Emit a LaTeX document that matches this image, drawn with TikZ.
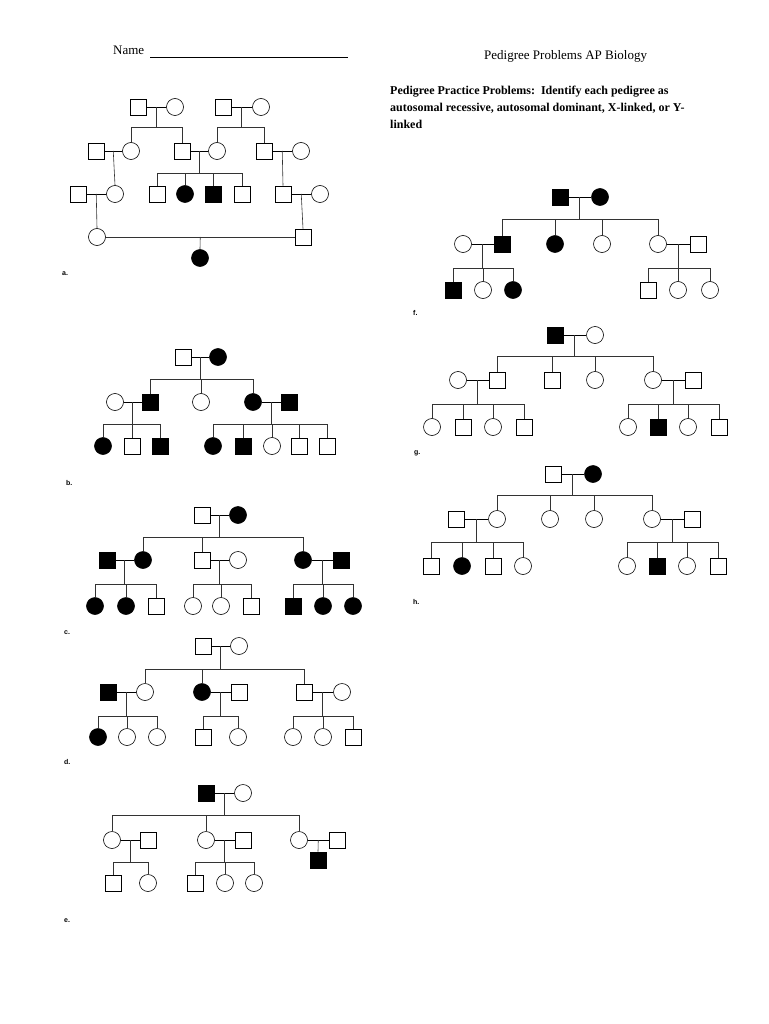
\documentclass[tikz,border=0pt]{standalone}
\usepackage{fontspec}
\setmainfont{Liberation Serif}
\newfontfamily\lab{Liberation Sans}
\begin{document}
\begin{tikzpicture}[x=1pt,y=-1pt,
  sq/.style={draw,rectangle,minimum size=16pt,inner sep=0pt,line width=0.6pt},
  ci/.style={draw,circle,minimum size=17pt,inner sep=0pt,line width=0.6pt},
  af/.style={fill=black},
  ln/.style={line width=0.6pt,draw=black!80},
  cl/.style={line width=0.9pt},
  lbl/.style={font=\lab\bfseries\fontsize{7}{8}\selectfont,anchor=base west,inner sep=0pt}]
\useasboundingbox (0,0) rectangle (768,1024);
\newcommand\Sq[4][]{\node[sq,#1] (#2) at (#3,#4) {};}
\newcommand\Ci[4][]{\node[ci,#1] (#2) at (#3,#4) {};}
\newcommand\cpl[3]{\draw[cl] (#1) -- (#2) coordinate[midway] (#3);}
% #1 parent coord, #2 y, #3 first, #4 last, #5 list
\newcommand\sibs[5]{\draw[ln] (#1) -- (#1 |- 0,#2);
  \draw[ln] (#3.north |- 0,#2) -- (#4.north |- 0,#2);
  \foreach \c in {#5}{\draw[ln] (\c.north) -- (\c.north |- 0,#2);}}
\newcommand\one[2]{\draw[ln] (#1) -- (#2.north);}

% header
\node[anchor=base west,inner sep=0pt,font=\fontsize{13}{15}\selectfont] (nm) at (113,55) {Name};
\draw[line width=0.7pt] (150,57) coordinate (u1) -- (348,57) coordinate (u2);
\node[anchor=base west,inner sep=0pt,font=\fontsize{13}{15}\selectfont] (tt) at (484,60) {Pedigree Problems AP Biology};
\node[anchor=north west,inner sep=0pt,align=left,font=\bfseries\fontsize{12}{17}\selectfont] (ins) at (390,86)
 {Pedigree Practice Problems:\ \ Identify each pedigree as\\autosomal recessive, autosomal dominant, X-linked, or Y-\\linked};

% ===== a =====
\Sq{a1}{138}{107}\Ci{a2}{175}{107}\Sq{a3}{223}{107}\Ci{a4}{261}{107}
\Sq{a5}{96}{151}\Ci{a6}{131}{151}\Sq{a7}{182}{151}\Ci{a8}{217}{151}\Sq{a9}{264}{151}\Ci{a10}{301}{151}
\Sq{a11}{157}{194}\Ci[af]{a12}{185}{194}\Sq[af]{a13}{213}{194}\Sq{a14}{242}{194}
\Sq{a15}{78}{194}\Ci{a16}{115}{194}\Sq{a17}{283}{194}\Ci{a18}{320}{194}
\Ci{a19}{97}{237}\Sq{a20}{303}{237}\Ci[af]{a21}{200}{258}
\cpl{a1}{a2}{am1}\sibs{am1}{127}{a6}{a7}{a6,a7}
\cpl{a3}{a4}{am2}\sibs{am2}{127}{a8}{a9}{a8,a9}
\cpl{a5}{a6}{am3}\one{am3}{a16}
\cpl{a7}{a8}{am4}\sibs{am4}{173}{a11}{a14}{a11,a12,a13,a14}
\cpl{a9}{a10}{am5}\one{am5}{a17}
\cpl{a15}{a16}{am6}\one{am6}{a19}
\cpl{a17}{a18}{am7}\one{am7}{a20}
\draw[ln] (a19) -- (a20) coordinate[midway] (am8);\one{am8}{a21}
\node[lbl] (la) at (62,275) {a.};

% ===== b =====
\Sq{b1}{183}{357}\Ci[af]{b2}{218}{357}
\Ci{b3}{115}{402}\Sq[af]{b4}{150}{402}\Ci{b5}{201}{402}\Ci[af]{b6}{253}{402}\Sq[af]{b7}{289}{402}
\Ci[af]{b8}{103}{446}\Sq{b9}{132}{446}\Sq[af]{b10}{160}{446}
\Ci[af]{b11}{213}{446}\Sq[af]{b12}{243}{446}\Ci{b13}{272}{446}\Sq{b14}{299}{446}\Sq{b15}{327}{446}
\cpl{b1}{b2}{bm1}\sibs{bm1}{379}{b4}{b6}{b4,b5,b6}
\cpl{b3}{b4}{bm2}\sibs{bm2}{424}{b8}{b10}{b8,b9,b10}
\cpl{b6}{b7}{bm3}\sibs{bm3}{424}{b11}{b15}{b11,b12,b13,b14,b15}
\node[lbl] (lb) at (66,485) {b.};

% ===== c =====
\Sq{c1}{202}{515}\Ci[af]{c2}{238}{515}
\Sq[af]{c3}{107}{560}\Ci[af]{c4}{143}{560}\Sq{c5}{202}{560}\Ci{c6}{238}{560}\Ci[af]{c7}{303}{560}\Sq[af]{c8}{341}{560}
\Ci[af]{c9}{95}{606}\Ci[af]{c10}{126}{606}\Sq{c11}{156}{606}
\Ci{c12}{193}{606}\Ci{c13}{221}{606}\Sq{c14}{251}{606}
\Sq[af]{c15}{293}{606}\Ci[af]{c16}{323}{606}\Ci[af]{c17}{353}{606}
\cpl{c1}{c2}{cm1}\sibs{cm1}{537}{c4}{c7}{c4,c5,c7}
\cpl{c3}{c4}{cm2}\sibs{cm2}{584}{c9}{c11}{c9,c10,c11}
\cpl{c5}{c6}{cm3}\sibs{cm3}{584}{c12}{c14}{c12,c13,c14}
\cpl{c7}{c8}{cm4}\sibs{cm4}{584}{c15}{c17}{c15,c16,c17}
\node[lbl] (lc) at (64,634) {c.};

% ===== d =====
\Sq{d1}{203}{646}\Ci{d2}{239}{646}
\Sq[af]{d3}{108}{692}\Ci{d4}{145}{692}\Ci[af]{d5}{202}{692}\Sq{d6}{239}{692}\Sq{d7}{304}{692}\Ci{d8}{342}{692}
\Ci[af]{d9}{98}{737}\Ci{d10}{127}{737}\Ci{d11}{157}{737}
\Sq{d12}{203}{737}\Ci{d13}{238}{737}
\Ci{d14}{293}{737}\Ci{d15}{323}{737}\Sq{d16}{353}{737}
\cpl{d1}{d2}{dm1}\sibs{dm1}{669}{d4}{d7}{d4,d5,d7}
\cpl{d3}{d4}{dm2}\sibs{dm2}{716}{d9}{d11}{d9,d10,d11}
\cpl{d5}{d6}{dm3}\sibs{dm3}{716}{d12}{d13}{d12,d13}
\cpl{d7}{d8}{dm4}\sibs{dm4}{716}{d14}{d16}{d14,d15,d16}
\node[lbl] (ld) at (64,764) {d.};

% ===== e =====
\Sq[af]{e1}{206}{793}\Ci{e2}{243}{793}
\Ci{e3}{112}{840}\Sq{e4}{148}{840}\Ci{e5}{206}{840}\Sq{e6}{243}{840}\Ci{e7}{299}{840}\Sq{e8}{337}{840}
\Sq{e9}{113}{883}\Ci{e10}{148}{883}
\Sq{e11}{195}{883}\Ci{e12}{225}{883}\Ci{e13}{254}{883}
\Sq[af]{e14}{318}{860}
\cpl{e1}{e2}{em1}\sibs{em1}{815}{e3}{e7}{e3,e5,e7}
\cpl{e3}{e4}{em2}\sibs{em2}{862}{e9}{e10}{e9,e10}
\cpl{e5}{e6}{em3}\sibs{em3}{862}{e11}{e13}{e11,e12,e13}
\cpl{e7}{e8}{em4}\one{em4}{e14}
\node[lbl] (le) at (64,922) {e.};

% ===== f =====
\Sq[af]{f1}{560}{197}\Ci[af]{f2}{600}{197}
\Ci{f3}{463}{244}\Sq[af]{f4}{502}{244}\Ci[af]{f5}{555}{244}\Ci{f6}{602}{244}\Ci{f7}{658}{244}\Sq{f8}{698}{244}
\Sq[af]{f9}{453}{290}\Ci{f10}{483}{290}\Ci[af]{f11}{513}{290}
\Sq{f12}{648}{290}\Ci{f13}{678}{290}\Ci{f14}{710}{290}
\cpl{f1}{f2}{fm1}\sibs{fm1}{219}{f4}{f7}{f4,f5,f6,f7}
\cpl{f3}{f4}{fm2}\sibs{fm2}{268}{f9}{f11}{f9,f10,f11}
\cpl{f7}{f8}{fm3}\sibs{fm3}{268}{f12}{f14}{f12,f13,f14}
\node[lbl] (lf) at (413,315) {f.};

% ===== g =====
\Sq[af]{g1}{555}{335}\Ci{g2}{595}{335}
\Ci{g3}{458}{380}\Sq{g4}{497}{380}\Sq{g5}{552}{380}\Ci{g6}{595}{380}\Ci{g7}{653}{380}\Sq{g8}{693}{380}
\Ci{g9}{432}{427}\Sq{g10}{463}{427}\Ci{g11}{493}{427}\Sq{g12}{524}{427}
\Ci{g13}{628}{427}\Sq[af]{g14}{658}{427}\Ci{g15}{688}{427}\Sq{g16}{719}{427}
\cpl{g1}{g2}{gm1}\sibs{gm1}{356}{g4}{g7}{g4,g5,g6,g7}
\cpl{g3}{g4}{gm2}\sibs{gm2}{404}{g9}{g12}{g9,g10,g11,g12}
\cpl{g7}{g8}{gm3}\sibs{gm3}{404}{g13}{g16}{g13,g14,g15,g16}
\node[lbl] (lg) at (414,454) {g.};

% ===== h =====
\Sq{h1}{553}{474}\Ci[af]{h2}{593}{474}
\Sq{h3}{456}{519}\Ci{h4}{497}{519}\Ci{h5}{550}{519}\Ci{h6}{594}{519}\Ci{h7}{652}{519}\Sq{h8}{692}{519}
\Sq{h9}{431}{566}\Ci[af]{h10}{462}{566}\Sq{h11}{493}{566}\Ci{h12}{523}{566}
\Ci{h13}{627}{566}\Sq[af]{h14}{657}{566}\Ci{h15}{687}{566}\Sq{h16}{718}{566}
\cpl{h1}{h2}{hm1}\sibs{hm1}{495}{h4}{h7}{h4,h5,h6,h7}
\cpl{h3}{h4}{hm2}\sibs{hm2}{542}{h9}{h12}{h9,h10,h11,h12}
\cpl{h7}{h8}{hm3}\sibs{hm3}{542}{h13}{h16}{h13,h14,h15,h16}
\node[lbl] (lh) at (413,604) {h.};
\end{tikzpicture}
\end{document}
